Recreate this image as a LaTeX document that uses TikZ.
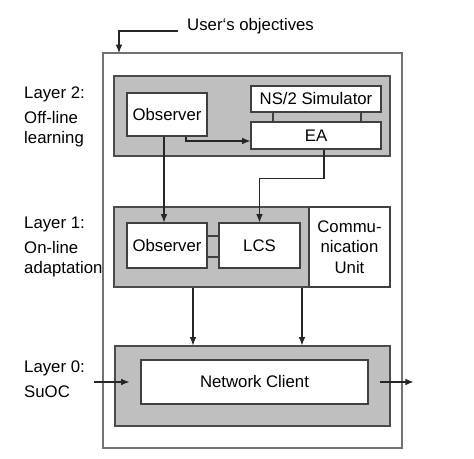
\documentclass[tikz,border=0pt]{standalone}
\usepackage{fontspec}
\setmainfont{Liberation Sans}
\usetikzlibrary{arrows.meta}
\begin{document}
\begin{tikzpicture}
	[	x=0.03cm,y=-0.03cm,
	layer/.style={rectangle,draw=black!70,fill=black!25,line width=1pt,inner sep=0},
	box/.style={rectangle,draw=black!75,fill=white,line width=1pt,inner sep=0,font=\fontsize{14.3}{17}\selectfont},
	plain/.style={draw=none,fill=none,inner sep=0,anchor=west,align=left,font=\fontsize{14.3}{17}\selectfont},
	arr/.style={-{Latex[length=2.5mm,width=2mm]},line width=0.9pt,black!85},
	link/.style={line width=0.9pt,black!75}
	]
	\useasboundingbox (0,0) rectangle (474,459);
	% outer frame
	\node[rectangle,draw=black!55,line width=1pt,minimum width=8.97cm,minimum height=11.85cm] (outer) at (252.5,250.5){};
	\node[plain,anchor=base west] (user) at (187,31){User`s objectives};
	\coordinate (uo) at (119,53);
	\draw[arr] ([xshift=-0.27cm]user.base west) -| (uo);

	% layer 2
	\node[layer,minimum width=8.28cm,minimum height=2.4cm] (L2) at (252,116){};
	\node[box,minimum width=2.4cm,minimum height=1.29cm] (obsA) at (167,114.5){Observer};
	\node[box,minimum width=3.9cm,minimum height=0.78cm] (ns) at (316,99){NS/2 Simulator};
	\node[box,minimum width=3.9cm,minimum height=0.81cm] (ea) at (316,135.5){EA};
	\draw[link] ([xshift=-1.29cm]ns.south) -- ([xshift=-1.29cm]ea.north);
	\draw[link] ([xshift=1.35cm]ns.south) -- ([xshift=1.35cm]ea.north);
	\draw[arr] ([xshift=0.57cm]obsA.south) |- ([yshift=-0.165cm]ea.west);

	% layer 1
	\node[layer,minimum width=5.85cm,minimum height=2.4cm] (L1) at (211.5,247){};
	\node[box,minimum width=2.43cm,minimum height=2.4cm,align=center,
		font=\fontsize{14.3}{17.4}\selectfont] (comm) at (349.5,247){Commu-\\nication\\Unit};
	\node[box,minimum width=2.4cm,minimum height=1.35cm] (obsB) at (167,245.5){Observer};
	\node[box,minimum width=2.43cm,minimum height=1.35cm] (lcs) at (259.5,245.5){LCS};
	\draw[link] ([yshift=0.285cm]obsB.east) -- ([yshift=0.285cm]lcs.west);
	\draw[link] ([yshift=-0.345cm]obsB.east) -- ([yshift=-0.345cm]lcs.west);
	\draw[arr] ([xshift=-0.09cm]obsA.south) -- ([xshift=-0.09cm]obsB.north);
	\draw[arr] ([xshift=0.24cm]ea.south) -- ++(0cm,-0.87cm) -| (lcs.north);

	% layer 0
	\node[layer,minimum width=8.25cm,minimum height=2.4cm] (L0) at (252.5,386){};
	\node[box,minimum width=6.81cm,minimum height=1.32cm] (nc) at (254.5,382){Network Client};
	\draw[arr] ([xshift=-0.555cm]L1.south) -- ([xshift=-0.555cm]L1.south |- L0.north);
	\draw[arr] ([xshift=2.715cm]L1.south) -- ([xshift=2.715cm]L1.south |- L0.north);
	\draw[arr] ([xshift=-1.38cm]nc.west) -- ([xshift=-0.33cm]nc.west);
	\draw[arr] ([xshift=0.33cm]nc.east) -- ([xshift=1.35cm]nc.east);

	% layer names
	\node[plain] (n2) at (24,94){Layer 2:};
	\node[plain] (t2) at (24,129){Off-line\\learning};
	\node[plain] (n1) at (24,224){Layer 1:};
	\node[plain] (t1) at (24,259){On-line\\adaptation};
	\node[plain] (n0) at (24,368){Layer 0:};
	\node[plain] (t0) at (24,392){SuOC};
\end{tikzpicture}
\end{document}
